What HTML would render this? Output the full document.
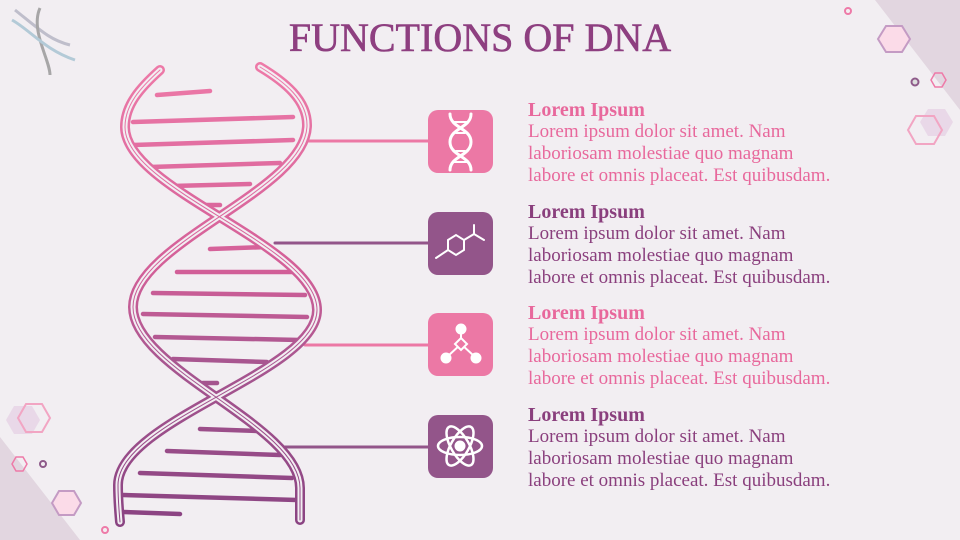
<!DOCTYPE html>
<html><head><meta charset="utf-8"><style>
body{margin:0;width:960px;height:540px;overflow:hidden;background:#f2eef2;font-family:"Liberation Serif",serif;position:relative}
.t{position:absolute;left:528px;width:430px}
.h{font-size:20px;font-weight:bold;line-height:22px;margin-bottom:0}
.b{font-size:19px;line-height:22px;white-space:nowrap}
.p{color:#e8689c}.u{color:#8a3f7d}
</style></head><body>
<svg width="960" height="540" style="position:absolute;left:0;top:0">
<defs><linearGradient id="g" x1="0" y1="60" x2="0" y2="525" gradientUnits="userSpaceOnUse"><stop offset="0" stop-color="#ee7aa8"/><stop offset="0.45" stop-color="#d35f98"/><stop offset="0.65" stop-color="#a85690"/><stop offset="1" stop-color="#8a4382"/></linearGradient></defs>
<polygon points="875,0 960,0 960,110" fill="#e2d6e0"/>
<polygon points="0,437 0,540 80,540" fill="#e2d6e0"/>
<g fill="none" stroke-width="2">
<polygon points="878,39 886,26 902,26 910,39 902,52 886,52" fill="#fbdbe8" stroke="#c49bc4"/>
<polygon points="920,122 928,109 945,109 953,122 945,136 928,136" fill="#e9d8e8" stroke="none"/>
<polygon points="908,130 916,116 934,116 942,130 934,144 916,144" stroke="#f2a5c3"/>
<polygon points="6,420 14,406 32,406 40,420 32,434 14,434" fill="#e9d8e8" stroke="none"/>
<polygon points="18,418 26,404 42,404 50,418 42,432 26,432" stroke="#f2a5c3"/>
<polygon points="52,503 59,491 74,491 81,503 74,515 59,515" fill="#fbdbe8" stroke="#c49bc4"/>
<circle cx="915" cy="82" r="3.5" stroke="#8e5a8a" fill="#ddd"/>
<circle cx="848" cy="11" r="3" stroke="#ee7aa8"/>
<circle cx="43" cy="464" r="3" stroke="#8e5a8a"/>
<circle cx="105" cy="530" r="3" stroke="#ee7aa8"/>
<polygon points="931,80 935,73 942,73 946,80 942,87 935,87" stroke="#ee7aa8" stroke-width="1.5"/>
<polygon points="12,464 16,457 23,457 27,464 23,471 16,471" stroke="#ee7aa8" stroke-width="1.5"/>
</g>
<g stroke="#aab" stroke-width="3" fill="none" opacity="0.7">
<path d="M15,10 C40,30 50,40 70,45"/><path d="M40,8 C30,30 50,60 50,75" stroke="#888"/><path d="M12,20 C30,30 45,50 75,60" stroke="#9bc"/>
</g>
<text x="480" y="51" text-anchor="middle" font-family="Liberation Serif" font-size="40" fill="#8e3f80" stroke="#8e3f80" stroke-width="0.6">FUNCTIONS OF DNA</text>
<g stroke-linecap="round">
<line x1="300" y1="141" x2="430" y2="141" stroke="#ec78a5" stroke-width="3"/>
<line x1="275" y1="243" x2="430" y2="243" stroke="#93558a" stroke-width="3"/>
<line x1="305" y1="345" x2="430" y2="345" stroke="#ec78a5" stroke-width="3"/>
<line x1="285" y1="447" x2="430" y2="447" stroke="#93558a" stroke-width="3"/>
</g>
<g stroke="url(#g)" stroke-linecap="round" fill="none">
<g stroke-width="4.5">
<line x1="157" y1="95" x2="210" y2="91"/><line x1="133" y1="122" x2="293" y2="117"/><line x1="133" y1="145" x2="293" y2="140"/>
<line x1="150" y1="167" x2="280" y2="163"/><line x1="172" y1="186" x2="250" y2="184"/><line x1="205" y1="205" x2="220" y2="205"/>
<line x1="210" y1="249" x2="267" y2="247"/><line x1="177" y1="272" x2="292" y2="272"/><line x1="153" y1="293" x2="305" y2="295"/>
<line x1="143" y1="314" x2="307" y2="317"/><line x1="155" y1="337" x2="300" y2="340"/><line x1="173" y1="359" x2="267" y2="362"/>
<line x1="203" y1="383" x2="217" y2="383"/><line x1="200" y1="429" x2="257" y2="431"/><line x1="167" y1="451" x2="280" y2="455"/>
<line x1="140" y1="473" x2="292" y2="478"/><line x1="123" y1="495" x2="297" y2="500"/><line x1="123" y1="512" x2="180" y2="514"/>
</g>
<g stroke-width="10">
<path d="M160,70 C140,88 125,105 125,127 C125,190 317,245 317,310 C317,372 118,420 118,485 C118,500 119,510 120,522"/>
<path d="M260,67 C285,82 307,100 307,125 C307,190 133,243 133,307 C133,370 300,425 300,488 C300,500 300,510 300,520"/>
</g>
<g stroke="#f2eef2" stroke-width="5">
<path d="M160,70 C140,88 125,105 125,127 C125,190 317,245 317,310 C317,372 118,420 118,485 C118,500 119,510 120,522"/>
<path d="M260,67 C285,82 307,100 307,125 C307,190 133,243 133,307 C133,370 300,425 300,488 C300,500 300,510 300,520"/>
</g>
<g stroke-width="1">
<path d="M160,70 C140,88 125,105 125,127 C125,190 317,245 317,310 C317,372 118,420 118,485 C118,500 119,510 120,522"/>
<path d="M260,67 C285,82 307,100 307,125 C307,190 133,243 133,307 C133,370 300,425 300,488 C300,500 300,510 300,520"/>
</g>
</g>
<rect x="428" y="110" width="65" height="63" rx="10" fill="#ec78a5"/>
<rect x="428" y="212" width="65" height="63" rx="10" fill="#93558a"/>
<rect x="428" y="313" width="65" height="63" rx="10" fill="#ec78a5"/>
<rect x="428" y="415" width="65" height="63" rx="10" fill="#93558a"/>
<g stroke="#fff" stroke-width="3" fill="none" stroke-linecap="round">
<path d="M450,114 C450,128 471,128 471,142 C471,156 450,156 450,170"/>
<path d="M471,114 C471,128 450,128 450,142 C450,156 471,156 471,170"/>
<path d="M453,122 h15 M456,133 h9 M456,151 h9 M453,162 h15" stroke-width="2"/>
<g stroke-width="2"><polygon points="448,240 456,235 464,240 464,250 456,255 448,250"/><path d="M448,250 L436,258 M464,240 L474,234 L474,225 M474,234 L484,240"/></g>
<g stroke-width="2"><path d="M461,344 V330 M461,344 L448,356 M461,344 L474,356"/><polygon points="455,344 461,338 467,344 461,350" fill="#ec78a5"/></g>
<circle cx="461" cy="329" r="4" fill="#fff"/><circle cx="446" cy="358" r="4" fill="#fff"/><circle cx="476" cy="358" r="4" fill="#fff"/>
<g stroke-width="2.5"><ellipse cx="460" cy="446" rx="22" ry="9"/><ellipse cx="460" cy="446" rx="22" ry="9" transform="rotate(60 460 446)"/><ellipse cx="460" cy="446" rx="22" ry="9" transform="rotate(-60 460 446)"/></g>
<circle cx="460" cy="446" r="4" fill="#fff"/>
</g>
</svg>
<div class="t" style="top:99px"><div class="h p">Lorem Ipsum</div><div class="b p">Lorem ipsum dolor sit amet. Nam<br>laboriosam molestiae quo magnam<br>labore et omnis placeat. Est quibusdam.</div></div>
<div class="t" style="top:201px"><div class="h u">Lorem Ipsum</div><div class="b u">Lorem ipsum dolor sit amet. Nam<br>laboriosam molestiae quo magnam<br>labore et omnis placeat. Est quibusdam.</div></div>
<div class="t" style="top:302px"><div class="h p">Lorem Ipsum</div><div class="b p">Lorem ipsum dolor sit amet. Nam<br>laboriosam molestiae quo magnam<br>labore et omnis placeat. Est quibusdam.</div></div>
<div class="t" style="top:404px"><div class="h u">Lorem Ipsum</div><div class="b u">Lorem ipsum dolor sit amet. Nam<br>laboriosam molestiae quo magnam<br>labore et omnis placeat. Est quibusdam.</div></div>
</body></html>
